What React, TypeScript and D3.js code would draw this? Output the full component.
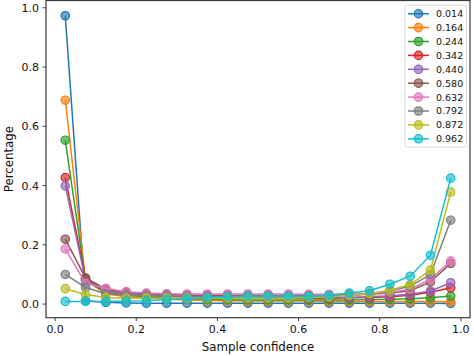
import React from "react";
import * as d3 from "d3";

const bins = [0.025, 0.075, 0.125, 0.175, 0.225, 0.275, 0.325, 0.375, 0.425, 0.475, 0.525, 0.575, 0.625, 0.675, 0.725, 0.775, 0.825, 0.875, 0.925, 0.975];

const seriesNames = ["0.014", "0.164", "0.244", "0.342", "0.440", "0.580", "0.632", "0.792", "0.872", "0.962"];

const s014 = [0.973, 0.011, 0.006, 0.004, 0.003, 0.003, 0.003, 0.003, 0.003, 0.003, 0.003, 0.003, 0.003, 0.003, 0.003, 0.003, 0.003, 0.003, 0.003, 0.002];
const s164 = [0.688, 0.08, 0.035, 0.025, 0.02, 0.016, 0.014, 0.012, 0.011, 0.01, 0.01, 0.01, 0.01, 0.009, 0.009, 0.009, 0.009, 0.009, 0.009, 0.008];
const s244 = [0.553, 0.08, 0.04, 0.03, 0.025, 0.02, 0.018, 0.016, 0.015, 0.014, 0.014, 0.014, 0.014, 0.014, 0.014, 0.015, 0.016, 0.018, 0.021, 0.027];
const s342 = [0.427, 0.086, 0.045, 0.035, 0.03, 0.026, 0.024, 0.022, 0.021, 0.02, 0.02, 0.02, 0.02, 0.02, 0.021, 0.022, 0.025, 0.03, 0.04, 0.055];
const s440 = [0.399, 0.08, 0.045, 0.035, 0.03, 0.027, 0.025, 0.024, 0.023, 0.022, 0.022, 0.022, 0.022, 0.022, 0.023, 0.025, 0.028, 0.033, 0.044, 0.072];
const s580 = [0.219, 0.088, 0.05, 0.04, 0.035, 0.032, 0.03, 0.03, 0.03, 0.03, 0.03, 0.03, 0.03, 0.03, 0.031, 0.033, 0.037, 0.045, 0.075, 0.137];
const s632 = [0.186, 0.07, 0.053, 0.042, 0.037, 0.035, 0.034, 0.034, 0.034, 0.034, 0.034, 0.034, 0.033, 0.033, 0.034, 0.036, 0.04, 0.05, 0.084, 0.145];
const s792 = [0.1, 0.056, 0.035, 0.03, 0.028, 0.027, 0.026, 0.025, 0.025, 0.025, 0.025, 0.025, 0.025, 0.027, 0.03, 0.035, 0.045, 0.06, 0.1, 0.283];
const s872 = [0.052, 0.032, 0.022, 0.02, 0.02, 0.02, 0.02, 0.02, 0.02, 0.02, 0.02, 0.02, 0.022, 0.024, 0.03, 0.035, 0.047, 0.066, 0.115, 0.378];
const s962 = [0.009, 0.009, 0.009, 0.01, 0.011, 0.015, 0.018, 0.022, 0.025, 0.027, 0.027, 0.027, 0.026, 0.029, 0.037, 0.045, 0.067, 0.094, 0.165, 0.425];

const seriesValues = [s014, s164, s244, s342, s440, s580, s632, s792, s872, s962];

const xTicks = [0.0, 0.2, 0.4, 0.6, 0.8, 1.0];
const yTicks = [0.0, 0.2, 0.4, 0.6, 0.8, 1.0];

const colors = d3.schemeCategory10;

export default function App() {
  const W = 474, H = 356;
  const left = 46, right = 470, top = 0.5, bottom = 317.7;
  const x = d3.scaleLinear().domain([-0.0225, 1.0225]).range([left, right]);
  const y = d3.scaleLinear().domain([-0.046, 1.0245]).range([bottom, top]);
  const line = d3.line<number>().x((_, i) => x(bins[i])).y((d) => y(d));
  const font = "DejaVu Sans, sans-serif";

  const legX = 405, legY = 5, legW = 61.5, legH = 142;
  const rowH = 13.9;

  return (
    <svg width={W} height={H} style={{ position: "absolute", left: 0, top: 0 }} fontFamily={font}>
      <rect x={0} y={0} width={W} height={H} fill="white" />
      {seriesValues.map((vals, si) => (
        <g key={si}>
          <path d={line(vals) || ""} fill="none" stroke={colors[si]} strokeWidth={1.5} />
          {vals.map((v, i) => (
            <circle key={i} cx={x(bins[i])} cy={y(v)} r={4.2} fill={colors[si]} fillOpacity={0.65} stroke={colors[si]} strokeWidth={1.2} />
          ))}
        </g>
      ))}
      {/* frame */}
      <rect x={left} y={top} width={right - left} height={bottom - top} fill="none" stroke="#3a3a3a" strokeWidth={1.2} />
      {/* x ticks */}
      {xTicks.map((t) => (
        <g key={t}>
          <line x1={x(t)} x2={x(t)} y1={bottom} y2={bottom + 3.5} stroke="#333" strokeWidth={0.9} />
          <text x={x(t)} y={bottom + 15} textAnchor="middle" fontSize={11} fill="#111">{t.toFixed(1)}</text>
        </g>
      ))}
      {yTicks.map((t) => (
        <g key={t}>
          <line x1={left - 3.5} x2={left} y1={y(t)} y2={y(t)} stroke="#333" strokeWidth={0.9} />
          <text x={left - 7} y={y(t) + 4} textAnchor="end" fontSize={11} fill="#111">{t.toFixed(1)}</text>
        </g>
      ))}
      <text x={(left + right) / 2} y={351} textAnchor="middle" fontSize={11.8} fill="#111">Sample confidence</text>
      <text transform={`translate(12.5,${(top + bottom) / 2}) rotate(-90)`} textAnchor="middle" fontSize={11.8} fill="#111">Percentage</text>
      {/* legend */}
      <rect x={legX} y={legY} width={legW} height={legH} rx={2.5} fill="white" fillOpacity={0.85} stroke="#d0d0d0" strokeWidth={0.8} />
      {seriesNames.map((name, i) => {
        const cy = legY + 8.7 + i * rowH;
        return (
          <g key={name}>
            <line x1={408} x2={429} y1={cy} y2={cy} stroke={colors[i]} strokeWidth={1.5} />
            <circle cx={418.5} cy={cy} r={4.2} fill={colors[i]} fillOpacity={0.65} stroke={colors[i]} strokeWidth={1.2} />
            <text x={436} y={cy + 3.4} fontSize={9.5} fill="#111">{name}</text>
          </g>
        );
      })}
    </svg>
  );
}
